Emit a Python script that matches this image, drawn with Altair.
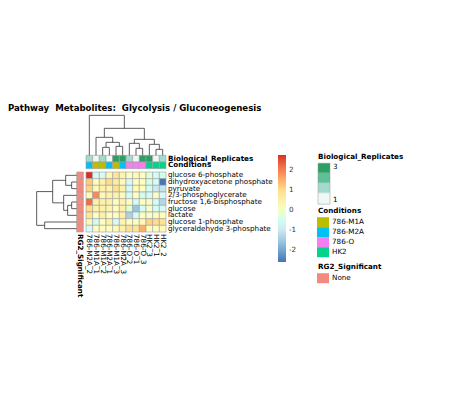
import altair as alt
import pandas as pd

# ---------------- data ----------------
title_text = ["Pathway \u00a0Metabolites: \u00a0Glycolysis / Gluconeogenesis"]

col_names = ["786-M2A_2", "786-M1A_1", "786-M1A_2", "786-M2A_1", "786-M1A_3", "786-M2A_3",
             "786-O_2", "786-O_1", "786-O_3", "HK2_3", "HK2_1", "HK2_2"]
col_conditions = ["786-M2A", "786-M1A", "786-M1A", "786-M2A", "786-M1A", "786-M2A",
                  "786-O", "786-O", "786-O", "HK2", "HK2", "HK2"]
col_replicates = [2, 1, 2, 1, 3, 3, 2, 1, 3, 3, 1, 2]

row_names = ["glucose 6-phosphate", "dihydroxyacetone phosphate", "pyruvate",
             "2/3-phosphoglycerate", "fructose 1,6-bisphosphate", "glucose", "lactate",
             "glucose 1-phosphate", "glyceraldehyde 3-phosphate"]
row_significant = ["None"] * 9

values = [
    [2.75, -0.6, -0.6, 0.3, 0.8, 0.4, 0.1, 0.2, 0.1, -0.2, -0.6, -0.4],
    [1.2, 0.1, 0.5, 1.0, 0.6, 0.2, -0.6, 0.1, 0.1, -0.3, -0.6, -2.6],
    [1.1, 0.2, 0.5, 0.4, 0.9, 0.5, -0.6, 0.2, 0.1, -0.5, -1.0, -1.1],
    [0.2, 1.9, 0.2, 0.5, 0.5, 0.2, -0.5, 0.1, -0.5, -0.5, 0.0, -0.6],
    [2.2, 0.5, 0.5, 0.5, 0.1, 0.4, 0.1, -0.6, 0.1, 0.0, -0.6, -1.3],
    [1.0, 0.5, 0.5, 0.4, 0.1, 0.5, -0.2, -1.6, -0.6, 0.0, -0.5, -0.6],
    [0.8, 0.1, 0.5, 0.1, 0.1, 0.5, -1.4, -0.6, 0.1, 0.0, 0.1, 0.1],
    [0.3, -0.6, 0.1, 0.5, -0.6, 0.4, 0.1, 0.1, 0.2, 1.1, 1.0, 0.9],
    [-0.6, 0.1, 0.1, 0.1, 0.2, 0.5, 0.9, 0.8, 1.5, 0.1, 0.1, 0.2],
]

# hclust-style merges (negative = leaf in display order, positive = earlier merge)
col_merges = [(-8, -9), (-11, -12), (-3, -4), (-5, -6), (3, 4), (-7, 1), (-10, 2),
              (-2, 5), (6, 7), (8, 9), (-1, 10)]
col_heights = [1.05, 0.9, 1.2, 1.35, 1.95, 1.8, 1.65, 2.7, 2.4, 4.05, 6.0]

row_merges = [(-2, -3), (-5, -6), (-1, 1), (2, -7), (-4, 4), (3, 5), (-8, -9), (6, 7)]
row_heights = [0.75, 0.75, 1.65, 1.35, 1.95, 3.6, 4.8, 6.0]

cond_levels = ["786-M1A", "786-M2A", "786-O", "HK2"]
cond_colors = ["#BDBD00", "#00C1F3", "#F57EF0", "#00D38C"]
rep_colors = ["#EEF8F5", "#A3DACD", "#5FBF95", "#2E9E63"]
heat_colors = ["#4575B4", "#91BFDB", "#E0F3F8", "#FFFFBF", "#FEE090", "#FC8D59", "#D73027"]
sig_colors = ["#F4897F"]

# ---------------- layout constants (cell units) ----------------
ncol, nrow = len(col_names), len(row_names)
cmin, cmax = -2.6, 2.75
heat_domain = [cmin + (cmax - cmin) * k / 6 for k in range(7)]

# stepped (block) ramp for the replicate annotation: 4 equal blocks between 1 and 3
rmin, rmax, nblk = 1.0, 3.0, len(rep_colors)
rep_domain, rep_range = [], []
for k in range(nblk):
    lo = rmin + (rmax - rmin) * k / nblk
    hi = rmin + (rmax - rmin) * (k + 1) / nblk
    rep_domain += [lo + (1e-4 if k else 0), hi]
    rep_range += [rep_colors[k], rep_colors[k]]

rep_top, cond_top, ann_h = -2.5, -1.5, 1.0
rowann_x0, rowann_x1 = -1.4, -0.4
label_gap = 0.3

heat = pd.DataFrame([
    dict(x0=j, x1=j + 1, y0=i, y1=i + 1, value=values[i][j], row=row_names[i], col=col_names[j])
    for i in range(nrow) for j in range(ncol)
])
colann = pd.DataFrame(dict(
    x0=list(range(ncol)), x1=[j + 1 for j in range(ncol)],
    cond=col_conditions, rep=col_replicates,
))
rowann = pd.DataFrame(dict(y0=list(range(nrow)), y1=[i + 1 for i in range(nrow)], sig=row_significant))


def dendro_segments(merges, heights, n):
    pos = {-k: k - 0.5 for k in range(1, n + 1)}
    hgt = {-k: 0.0 for k in range(1, n + 1)}
    segs = []
    for k, ((a, b), h) in enumerate(zip(merges, heights), start=1):
        pa, pb = pos[a], pos[b]
        segs.append(dict(p=pa, p2=pa, h=hgt[a], h2=h))
        segs.append(dict(p=pb, p2=pb, h=hgt[b], h2=h))
        segs.append(dict(p=pa, p2=pb, h=h, h2=h))
        pos[k] = (pa + pb) / 2
        hgt[k] = h
    return pd.DataFrame(segs)


cd = dendro_segments(col_merges, col_heights, ncol)
cd["y"] = rep_top - cd["h"]
cd["y2"] = rep_top - cd["h2"]
rd = dendro_segments(row_merges, row_heights, nrow)
rd["x"] = rowann_x0 - rd["h"]
rd["x2"] = rowann_x0 - rd["h2"]

rowlab = pd.DataFrame(dict(x=[ncol + label_gap] * nrow, y=[i + 0.5 for i in range(nrow)], t=row_names))
collab = pd.DataFrame(dict(x=[j + 0.5 for j in range(ncol)], y=[nrow + label_gap] * ncol, t=col_names))
annlab = pd.DataFrame(dict(x=[ncol + label_gap] * 2, y=[rep_top + ann_h / 2, cond_top + ann_h / 2],
                           t=["Biological_Replicates", "Conditions"]))
rowannlab = pd.DataFrame(dict(x=[(rowann_x0 + rowann_x1) / 2], y=[nrow + label_gap], t=["RG2_Significant"]))
titledf = pd.DataFrame(dict(t=title_text))

FONT = "DejaVu Sans"
FS = 7.2
XS = alt.Scale(domain=[-11.7, 57.0], nice=False, zero=False)
YS = alt.Scale(domain=[-24.6, 32.25], nice=False, zero=False, reverse=True)


def X(f):
    return alt.X(f, type="quantitative", scale=XS, axis=None)


def Y(f):
    return alt.Y(f, type="quantitative", scale=YS, axis=None)


border = dict(stroke="#A0A0A0", strokeWidth=0.6)

heat_layer = alt.Chart(heat).mark_rect(**border).encode(
    x=X("x0"), x2="x1", y=Y("y0"), y2="y1",
    color=alt.Color("value:Q", scale=alt.Scale(domain=heat_domain, range=heat_colors),
                    legend=alt.Legend(title=None, orient="none", legendX=270, legendY=147,
                                      gradientLength=107, gradientThickness=8,
                                      values=[-2, -1, 0, 1, 2], labelExpr="'' + datum.value",
                                      labelColor="#333", gradientStrokeWidth=0, labelOffset=3)),
)

rep_layer = alt.Chart(colann).mark_rect(**border).encode(
    x=X("x0"), x2="x1", y=alt.Y(datum=rep_top, scale=YS, axis=None), y2=alt.Y2(datum=rep_top + ann_h),
    color=alt.Color("rep:Q", scale=alt.Scale(domain=rep_domain, range=rep_range),
                    legend=alt.Legend(title="Biological_Replicates", orient="none", legendX=310, legendY=145,
                                      gradientLength=41, gradientThickness=12,
                                      gradientStrokeColor="#999999", gradientStrokeWidth=0.5,
                                      values=[1, 3], labelExpr="'' + datum.value", labelOffset=3)),
)

cond_layer = alt.Chart(colann).mark_rect(**border).encode(
    x=X("x0"), x2="x1", y=alt.Y(datum=cond_top, scale=YS, axis=None), y2=alt.Y2(datum=cond_top + ann_h),
    color=alt.Color("cond:N", scale=alt.Scale(domain=cond_levels, range=cond_colors),
                    legend=alt.Legend(title="Conditions", orient="none", legendX=310, legendY=199,
                                      symbolType="M-1.2,-1H1.2V1H-1.2Z", symbolSize=100,
                                      symbolStrokeWidth=0, symbolOpacity=1, rowPadding=0)),
)

sig_layer = alt.Chart(rowann).mark_rect(**border).encode(
    x=alt.X(datum=rowann_x0, scale=XS, axis=None), x2=alt.X2(datum=rowann_x1), y=Y("y0"), y2="y1",
    color=alt.Color("sig:N", scale=alt.Scale(range=sig_colors),
                    legend=alt.Legend(title="RG2_Significant", orient="none", legendX=310, legendY=255,
                                      symbolType="M-1.2,-1H1.2V1H-1.2Z", symbolSize=100,
                                      symbolStrokeWidth=0, symbolOpacity=1)),
)

cd_layer = alt.Chart(cd).mark_rule(color="#333333", strokeWidth=0.8).encode(
    x=X("p"), x2="p2", y=Y("y"), y2="y2")
rd_layer = alt.Chart(rd).mark_rule(color="#333333", strokeWidth=0.8).encode(
    x=X("x"), x2="x2", y=Y("p"), y2="p2")

rowlab_layer = alt.Chart(rowlab).mark_text(align="left", baseline="middle", font=FONT, fontSize=FS,
                                           color="black").encode(x=X("x"), y=Y("y"), text="t:N")
collab_layer = alt.Chart(collab).mark_text(align="left", baseline="middle", angle=90, font=FONT,
                                           fontSize=FS, color="black").encode(x=X("x"), y=Y("y"), text="t:N")
annlab_layer = alt.Chart(annlab).mark_text(align="left", baseline="middle", font=FONT, fontSize=FS,
                                           fontWeight="bold", color="black").encode(x=X("x"), y=Y("y"), text="t:N")
rowannlab_layer = alt.Chart(rowannlab).mark_text(align="left", baseline="middle", angle=90, font=FONT,
                                                 fontSize=FS, fontWeight="bold", color="black").encode(
    x=X("x"), y=Y("y"), text="t:N")
title_layer = alt.Chart(titledf).mark_text(align="left", baseline="alphabetic", font=FONT, fontSize=8.6,
                                           fontWeight="bold", color="black").encode(
    x=alt.value(0), y=alt.value(103), text="t:N")

chart = alt.layer(
    heat_layer, rep_layer, cond_layer, sig_layer, cd_layer, rd_layer,
    rowlab_layer, collab_layer, annlab_layer, rowannlab_layer, title_layer,
).resolve_scale(color="independent").properties(
    width=458, height=379, autosize=alt.AutoSizeParams(type="none"), padding=0,
).configure_view(strokeWidth=0).configure_legend(
    titleFont=FONT, titleFontSize=FS, titleFontWeight="bold", titleColor="black",
    labelFont=FONT, labelFontSize=FS, labelColor="black", padding=0, titlePadding=3,
)

chart.save("out.html", embed_options={"renderer": "svg", "actions": False})
